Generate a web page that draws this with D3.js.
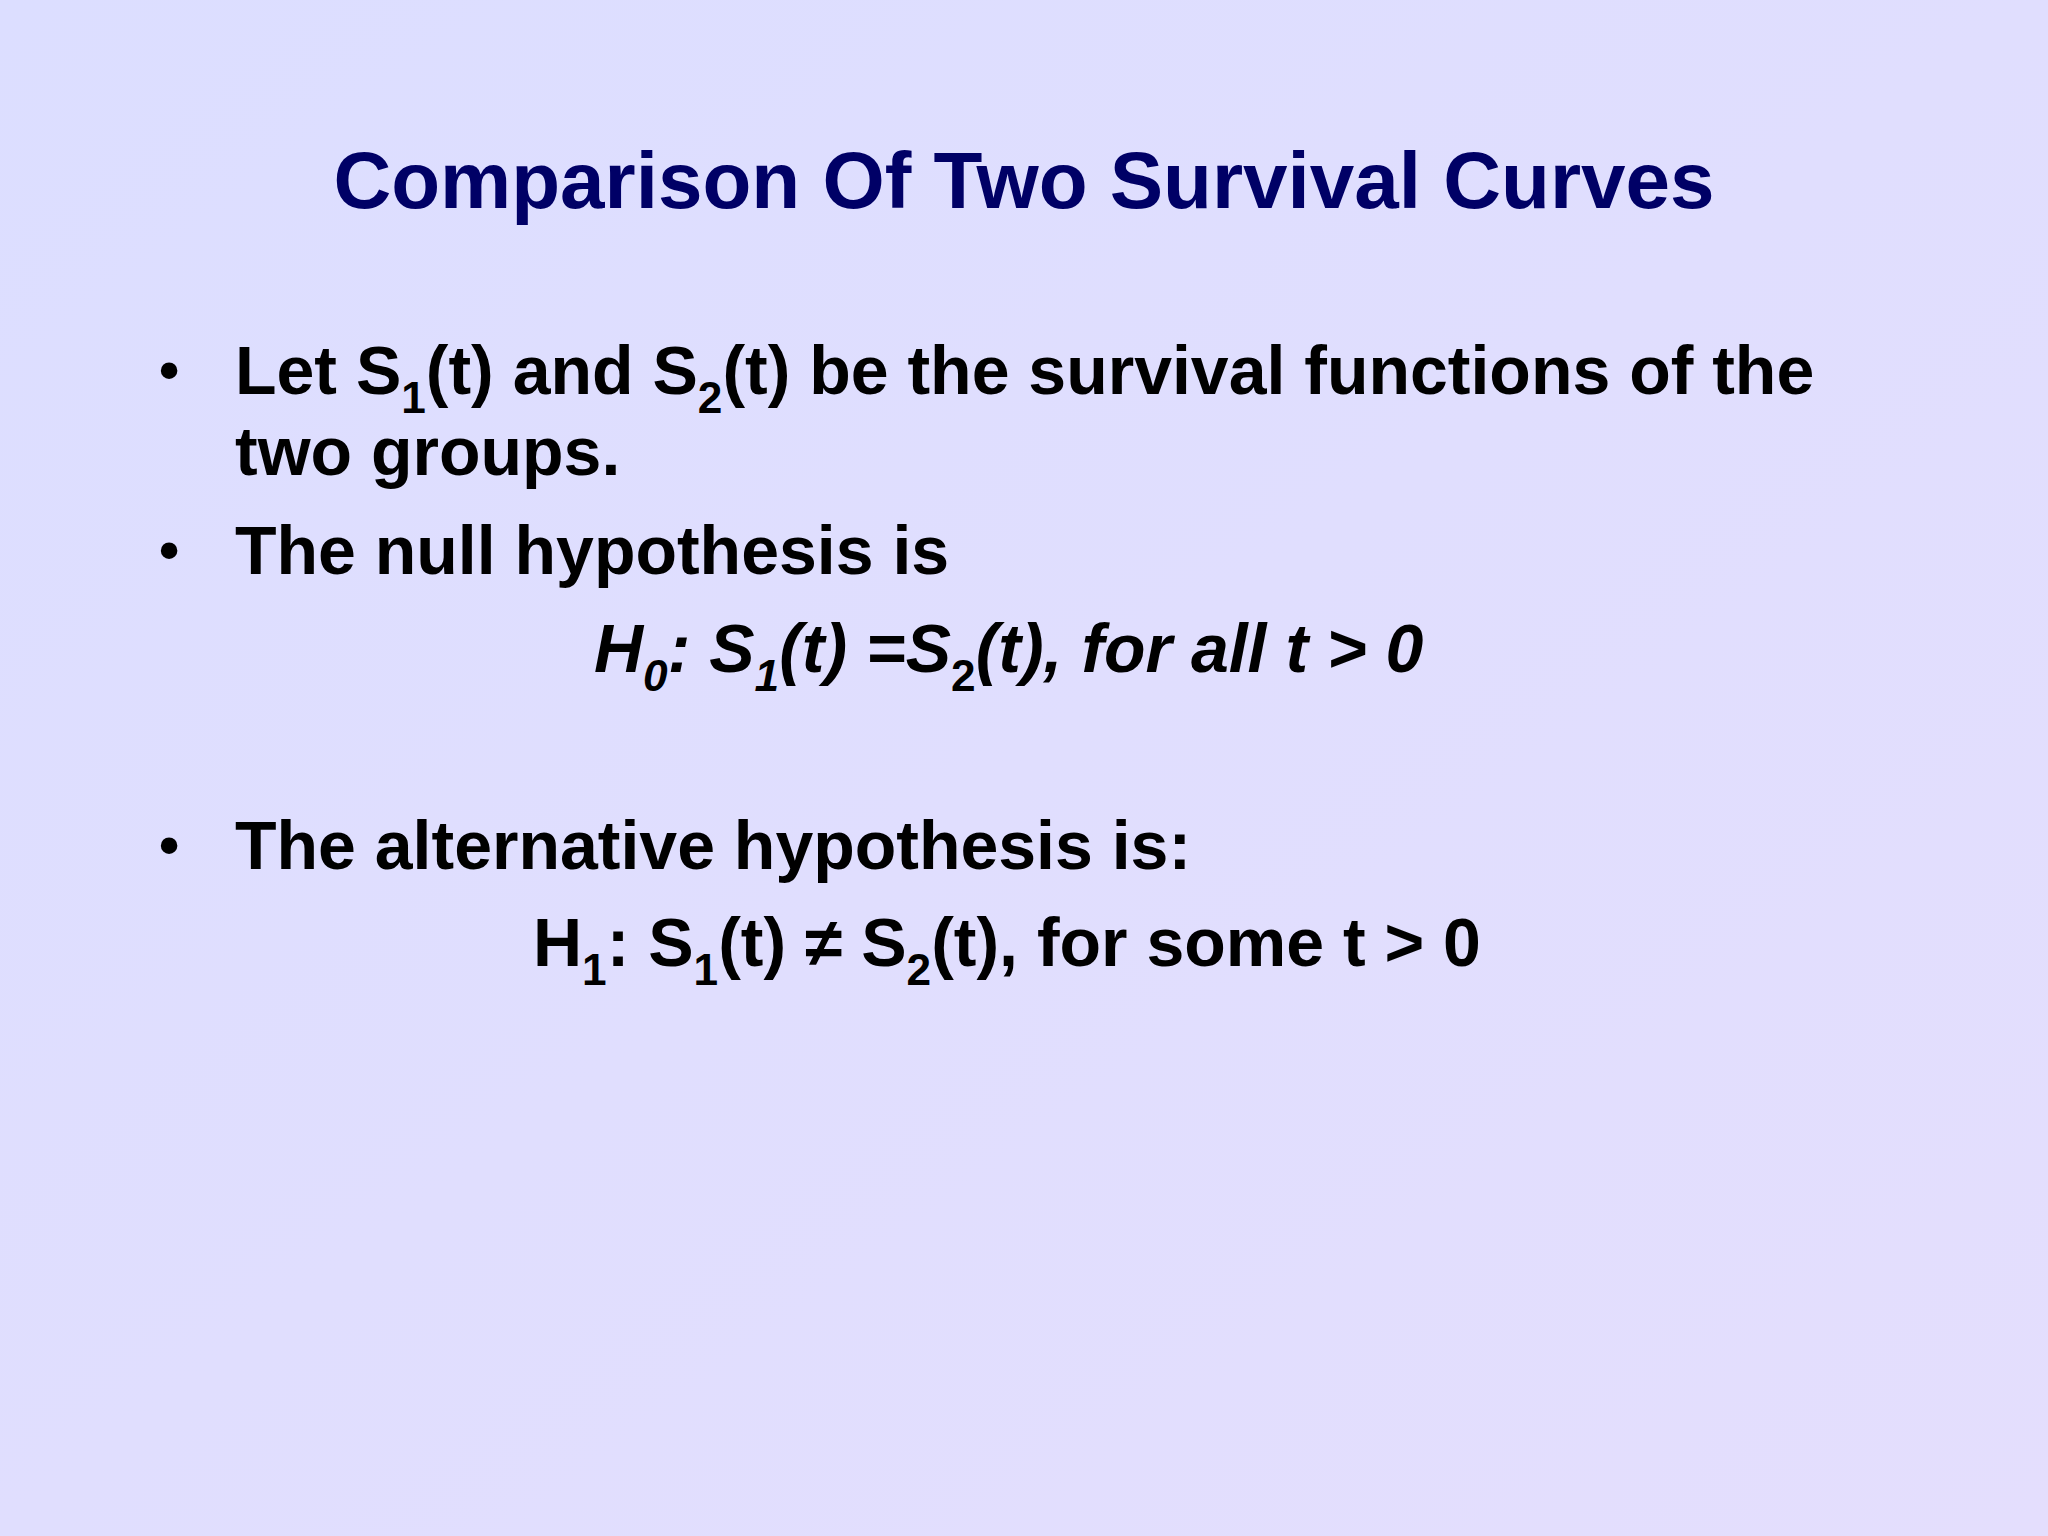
<!DOCTYPE html>
<html>
<head>
<meta charset="utf-8">
<script src="https://cdn.jsdelivr.net/npm/d3@7"></script>
<style>
  html, body { margin: 0; padding: 0; background: #e0deff; }
  svg { display: block; }
  text { font-family: "Liberation Sans", Arial, Helvetica, sans-serif; font-weight: bold; }
</style>
</head>
<body>
<svg id="slide"></svg>
<script>
// slide content: each line is a list of [text, style] runs
// "sub" = subscript, "subUp" = upright subscript inside an italic line
const titleText = "Comparison Of Two Survival Curves";

const bulletLines = [
    [["Let S"], ["1", "sub"], ["(t) and S"], ["2", "sub"], ["(t) be the survival functions of the"]],
    [["two groups."]],
    [["The null hypothesis is"]],
    [["The alternative hypothesis is:"]]
];
const bulletMarks = [true, false, true, true];

const nullHypothesis = [["H"], ["0", "sub"], [": S"], ["1", "sub"], ["(t) =S"], ["2", "subUp"], ["(t), for all t > 0"]];
const altHypothesis = [["H"], ["1", "sub"], [": S"], ["1", "sub"], ["(t) \u2260 S"], ["2", "sub"], ["(t), for some t > 0"]];

// layout
const W = 2048, H = 1536,
    BODY_SIZE = 68,
    TITLE_SIZE = 80,
    TEXT_X = 235,
    BULLET_X = 159;

const bulletY = [394, 475, 574, 869];

const svg = d3.select('#slide')
    .attr('width', W)
    .attr('height', H);

const defs = svg.append('defs');
const grad = defs.append('linearGradient')
    .attr('id', 'bg')
    .attr('x1', '0%').attr('y1', '0%')
    .attr('x2', '100%').attr('y2', '100%');
grad.append('stop').attr('offset', '0%').attr('stop-color', '#dcdeff');
grad.append('stop').attr('offset', '100%').attr('stop-color', '#e4defd');

svg.append('rect')
    .attr('width', W)
    .attr('height', H)
    .attr('fill', 'url(#bg)');

svg.append('text')
    .attr('x', W / 2)
    .attr('y', 208)
    .attr('text-anchor', 'middle')
    .attr('font-size', TITLE_SIZE)
    .attr('fill', '#000066')
    .text(titleText);

// write a line of runs, subscripts dropped and shrunk
function richLine(sel, runs) {
    const subOf = r => r[1] === 'sub' || r[1] === 'subUp';
    runs.forEach((r, i) => {
        const isSub = subOf(r),
            prevSub = i > 0 && subOf(runs[i - 1]);
        const ts = sel.append('tspan')
            .attr('font-size', isSub ? BODY_SIZE * 0.65 : BODY_SIZE)
            .attr('dy', isSub ? BODY_SIZE * 0.28 : (prevSub ? -BODY_SIZE * 0.28 : 0))
            .text(r[0]);
        if (r[1] === 'subUp') ts.attr('font-style', 'normal');
    });
}

const body = svg.append('g').attr('fill', '#000');

bulletLines.forEach((line, i) => {
    if (bulletMarks[i]) {
        body.append('text')
            .attr('x', BULLET_X)
            .attr('y', bulletY[i] - 4)
            .attr('font-size', BODY_SIZE * 0.85)
            .text('\u2022');
    }
    body.append('text')
        .attr('x', TEXT_X)
        .attr('y', bulletY[i])
        .call(richLine, line);
});

body.append('text')
    .attr('x', 594)
    .attr('y', 672)
    .attr('font-style', 'italic')
    .call(richLine, nullHypothesis);

body.append('text')
    .attr('x', 533)
    .attr('y', 966)
    .call(richLine, altHypothesis);
</script>
</body>
</html>
